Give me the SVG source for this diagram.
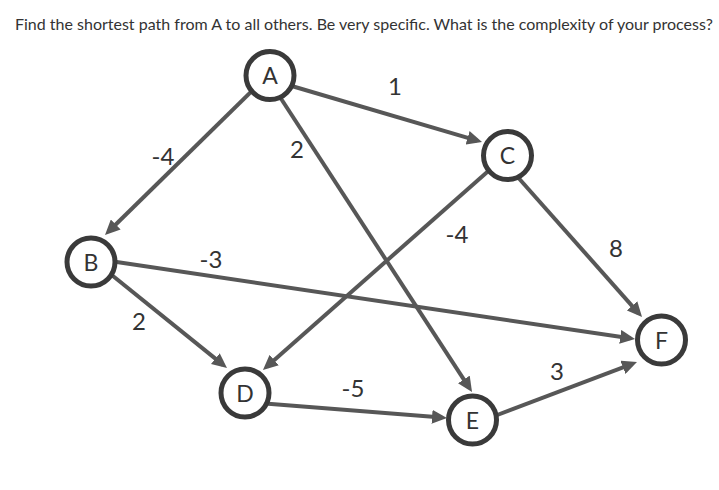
<svg xmlns="http://www.w3.org/2000/svg" width="719" height="490" viewBox="0 0 719 490">
<defs>
<style>
.edge{stroke:#575757;stroke-width:4;fill:none;marker-end:url(#arr)}
.node circle{fill:#fff;stroke:#3a3a3a;stroke-width:5}
.node text{font-family:Lato,"Open Sans",sans-serif;font-size:23px;fill:#333;text-anchor:middle}
.lbl{font-family:Lato,"Open Sans",sans-serif;font-size:24px;fill:#333;text-anchor:middle}
.title{font-family:Lato,"Open Sans",sans-serif;font-size:16px;fill:#333}
</style>
<marker id="arr" markerUnits="userSpaceOnUse" markerWidth="16" markerHeight="14" refX="10" refY="7" orient="auto">
<path d="M0,0 L15,7 L0,14 z" fill="#575757"/>
</marker>
</defs>
<rect width="719" height="490" fill="#fff"/>
<text class="title" x="15" y="30">Find the shortest path from A to all others. Be very specific. What is the complexity of your process?</text>
<g id="connectors">
<line class="edge" x1="255" y1="88" x2="108.6" y2="231.5"/>
<line class="edge" x1="290" y1="85.5" x2="477.2" y2="140.6"/>
<line class="edge" x1="278" y1="94" x2="469.3" y2="387.8"/>
<line class="edge" x1="494" y1="166" x2="266.7" y2="366.7"/>
<line class="edge" x1="515" y1="174" x2="638.7" y2="313.3"/>
<line class="edge" x1="110" y1="261" x2="630.1" y2="338.3"/>
<line class="edge" x1="108" y1="272" x2="223.1" y2="364.9"/>
<line class="edge" x1="265" y1="403.5" x2="442" y2="417.6"/>
<line class="edge" x1="492" y1="417" x2="632.3" y2="363.8"/>
<text class="lbl" x="163" y="165">-4</text>
<text class="lbl" x="395" y="95">1</text>
<text class="lbl" x="297" y="158">2</text>
<text class="lbl" x="211" y="268">-3</text>
<text class="lbl" x="139" y="330">2</text>
<text class="lbl" x="457" y="243">-4</text>
<text class="lbl" x="353" y="397">-5</text>
<text class="lbl" x="616" y="257">8</text>
<text class="lbl" x="557" y="380">3</text>
</g>
<g id="node-A" class="node"><circle cx="270" cy="75.5" r="24"/><text x="270" y="84">A</text></g>
<g id="node-B" class="node"><circle cx="91" cy="262" r="24"/><text x="91" y="270.5">B</text></g>
<g id="node-C" class="node"><circle cx="507.5" cy="155.5" r="24"/><text x="507.5" y="164">C</text></g>
<g id="node-D" class="node"><circle cx="245" cy="393" r="24"/><text x="245" y="401.5">D</text></g>
<g id="node-E" class="node"><circle cx="472.5" cy="420" r="24"/><text x="472.5" y="428.5">E</text></g>
<g id="node-F" class="node"><circle cx="661.5" cy="340" r="24"/><text x="661.5" y="348.5">F</text></g>
</svg>
